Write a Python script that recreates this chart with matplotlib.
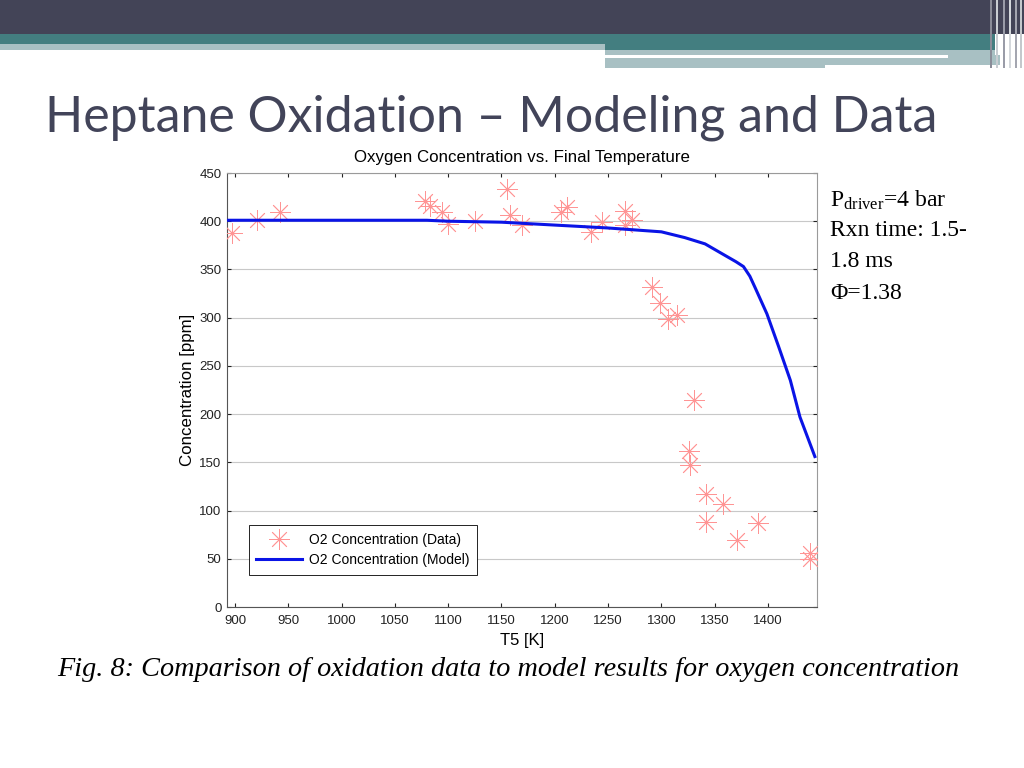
import matplotlib
matplotlib.use("Agg")
import matplotlib.pyplot as plt
from matplotlib.patches import Rectangle

# ---- data ----
data_T = [897, 921, 942, 1078, 1083, 1094, 1100, 1125, 1155, 1158, 1169,
          1206, 1211, 1234, 1244, 1266, 1266, 1272, 1291, 1299, 1306, 1315,
          1331, 1326, 1327, 1342, 1358, 1342, 1391, 1371, 1439, 1439]
data_O2 = [388, 401, 410, 421, 416, 410, 397, 400, 433, 406, 396,
           410, 415, 389, 399, 411, 396, 401, 332, 315, 299, 303,
           215, 162, 147, 117, 107, 88, 87, 69, 56, 50]
model_T = [892, 1000, 1080, 1100, 1150, 1200, 1250, 1300, 1322, 1341, 1359,
           1370, 1377, 1383, 1388, 1399, 1410, 1421, 1430, 1444]
model_O2 = [401, 401, 401, 400, 399, 396, 393, 389, 383, 376.5, 365,
            358, 353, 343, 331, 304, 270, 235, 197, 156]
x_ticks = [900, 950, 1000, 1050, 1100, 1150, 1200, 1250, 1300, 1350, 1400]
y_ticks = [0, 50, 100, 150, 200, 250, 300, 350, 400, 450]

plt.rcParams["mathtext.fontset"] = "custom"
plt.rcParams["mathtext.rm"] = "Liberation Serif"
plt.rcParams["mathtext.it"] = "Liberation Serif:italic"

W, H = 1024, 768
fig = plt.figure(figsize=(W / 100, H / 100), dpi=100)
fig.patch.set_facecolor("white")

def px_rect(x0, y0, x1, y1, color):
    fig.patches.append(Rectangle((x0 / W, 1 - y1 / H), (x1 - x0) / W, (y1 - y0) / H,
                                 transform=fig.transFigure, color=color, zorder=0, lw=0))

# header decoration
px_rect(0, 0, 1024, 34, "#434457")
px_rect(0, 34, 995, 44, "#437e80")
px_rect(0, 44, 605, 50, "#a8c0c3")
px_rect(605, 44, 995, 50, "#437e80")
px_rect(605, 50, 995, 55, "#a8c0c3")
px_rect(605, 58, 948, 59, "#a8c0c3")
px_rect(605, 59, 825, 68, "#a8c0c3")
px_rect(825, 59, 1000, 65, "#a8c0c3")
px_rect(948, 55, 1000, 59, "#a8c0c3")
for xs, c in [(990, "#8a8c98"), (996, "#c9cdd2"), (1003, "#9a9ca8"), (1009, "#d4d8dc"),
              (1015, "#a4a6b0"), (1020, "#c4c8cc")]:
    px_rect(xs, 0, xs + 2, 68, c)

fig.text(45 / W, 1 - 118 / H, "Heptane Oxidation \u2013 Modeling and Data",
         fontsize=36, family="Lato", color="#424459", va="center", ha="left")

# axes
ax = fig.add_axes([227 / W, 1 - 607 / H, 590 / W, 434 / H])
ax.plot(data_T, data_O2, linestyle="none", marker=(8, 2, 0), markersize=15,
        markeredgewidth=0.6, color="#ff9494", label="O2 Concentration (Data)", zorder=3)
ax.plot(model_T, model_O2, color="#0a14e6", lw=2.2, label="O2 Concentration (Model)", zorder=4)

ax.set_xlim(892.5, 1446)
ax.set_ylim(0, 450)
ax.set_xticks(x_ticks)
ax.set_yticks(y_ticks)
ax.yaxis.grid(True, color="#c8c8c8", lw=0.8)
ax.set_axisbelow(True)
ax.tick_params(direction="in", length=3, width=0.8, top=True, right=True,
               labelsize=9.5, colors="#222222", pad=4)
ax.tick_params(axis="x", pad=6)
for s in ax.spines.values():
    s.set_color("#9a9a9a")
    s.set_linewidth(0.8)
ax.spines["left"].set_color("#555555")
ax.spines["bottom"].set_color("#555555")
for lab in ax.get_xticklabels() + ax.get_yticklabels():
    lab.set_family("Liberation Sans")
ax.set_title("Oxygen Concentration vs. Final Temperature", fontsize=12.2,
             family="Liberation Sans", pad=8)
ax.set_xlabel("T5 [K]", fontsize=12, family="Liberation Sans", labelpad=4)
ax.set_ylabel("Concentration [ppm]", fontsize=12.2, family="Liberation Sans", labelpad=3)

leg = ax.legend(loc="lower left", bbox_to_anchor=(0.037, 0.074), borderaxespad=0,
                fancybox=False, edgecolor="black", framealpha=1,
                prop={"family": "Liberation Sans", "size": 10}, handlelength=3.3,
                borderpad=0.55, labelspacing=0.45, handletextpad=0.45)
leg.get_frame().set_linewidth(0.6)

# side annotation
sf = ["Liberation Serif", "DejaVu Serif"]
fig.text(830 / W, 1 - 200 / H, r"P$_{\mathrm{driver}}$=4 bar", fontsize=17, family=sf,
         va="center", ha="left")
fig.text(830 / W, 1 - 231 / H, "Rxn time: 1.5-", fontsize=17, family=sf, va="center", ha="left")
fig.text(830 / W, 1 - 262 / H, "1.8 ms", fontsize=17, family=sf, va="center", ha="left")
fig.text(830 / W, 1 - 293 / H, "\u03a6=1.38", fontsize=17, family=sf, va="center", ha="left")

fig.text(508 / W, 1 - 670 / H,
         "Fig. 8: Comparison of oxidation data to model results for oxygen concentration",
         fontsize=20.3, family="Liberation Serif", style="italic", va="center", ha="center")

fig.savefig("out.png", dpi=100)
